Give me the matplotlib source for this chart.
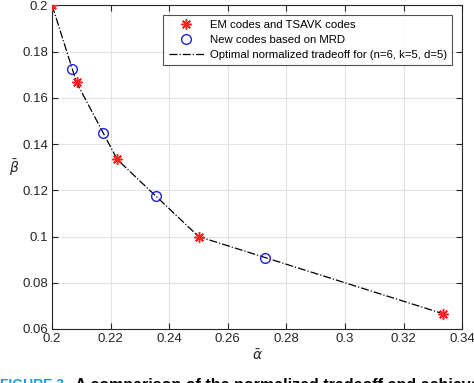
import matplotlib
matplotlib.use("Agg")
import matplotlib.pyplot as plt

plt.rcParams['font.family'] = ['Liberation Sans', 'DejaVu Sans']
plt.rcParams['mathtext.fontset'] = 'dejavusans'

em_alpha = [0.2, 5/24, 2/9, 0.25, 1/3]
em_beta = [0.2, 1/6, 2/15, 0.1, 1/15]
new_alpha = [6/29, 5/23, 4/17, 3/11]
new_beta = [5/29, 10/69, 2/17, 1/11]
opt_alpha = [0.2, 6/29, 5/24, 5/23, 2/9, 4/17, 0.25, 3/11, 1/3]
opt_beta = [0.2, 5/29, 1/6, 10/69, 2/15, 2/17, 0.1, 1/11, 1/15]
xticks = [0.2, 0.22, 0.24, 0.26, 0.28, 0.3, 0.32, 0.34]
xticklabels = ['0.2', '0.22', '0.24', '0.26', '0.28', '0.3', '0.32', '0.34']
yticks = [0.06, 0.08, 0.1, 0.12, 0.14, 0.16, 0.18, 0.2]
yticklabels = ['0.06', '0.08', '0.1', '0.12', '0.14', '0.16', '0.18', '0.2']

fig = plt.figure(figsize=(4.74, 3.83), dpi=100)
ax = fig.add_axes([0.110, 0.141, 0.865, 0.845])

ax.plot(em_alpha, em_beta, linestyle='none', marker=(8, 2, 0), color='#ff2020',
        markersize=7.5, markeredgewidth=1.1, label='EM codes and TSAVK codes', zorder=4)
ax.plot(new_alpha, new_beta, linestyle='none', marker='o', markerfacecolor='none',
        markeredgecolor='#2020e0', markersize=7, markeredgewidth=1.0,
        label='New codes based on MRD', zorder=4)
ax.plot(opt_alpha, opt_beta, linestyle='-.', color='black', linewidth=0.9,
        label='Optimal normalized tradeoff for (n=6, k=5, d=5)', zorder=3)

ax.set_xlim(0.2, 0.34)
ax.set_ylim(0.06, 0.2)
ax.set_xticks(xticks)
ax.set_xticklabels(xticklabels)
ax.set_yticks(yticks)
ax.set_yticklabels(yticklabels)
ax.tick_params(direction='in', top=True, right=True, labelsize=9.5, length=4,
               width=0.8, colors='#262626', pad=3)
ax.grid(True, color='#e3e3e3', linewidth=0.8)
ax.set_axisbelow(True)
for s in ax.spines.values():
    s.set_color('#262626')
    s.set_linewidth(0.8)

ax.set_xlabel(r'$\bar{\alpha}$', fontsize=10, color='#262626', labelpad=2)
ax.set_ylabel(r'$\bar{\beta}$', fontsize=10, color='#262626', rotation=0,
              va='center', ha='center')
ax.yaxis.set_label_coords(-0.093, 0.50)

leg = ax.legend(loc='upper right', bbox_to_anchor=(0.983, 0.982), fontsize=8.2,
                frameon=True, fancybox=False, edgecolor='#262626',
                handlelength=3.1, borderpad=0.45, labelspacing=0.45,
                handletextpad=0.5, borderaxespad=0.3)
leg.get_frame().set_linewidth(0.8)

fig.text(0.0, 0.014, 'FIGURE 3.', color='#1b9ad6', fontsize=10, fontweight='bold',
         va='top', ha='left')
fig.text(0.158, 0.014, 'A comparison of the normalized tradeoff and achievable', color='black',
         fontsize=11.5, fontweight='bold', va='top', ha='left')

fig.savefig('out.png', dpi=100)
